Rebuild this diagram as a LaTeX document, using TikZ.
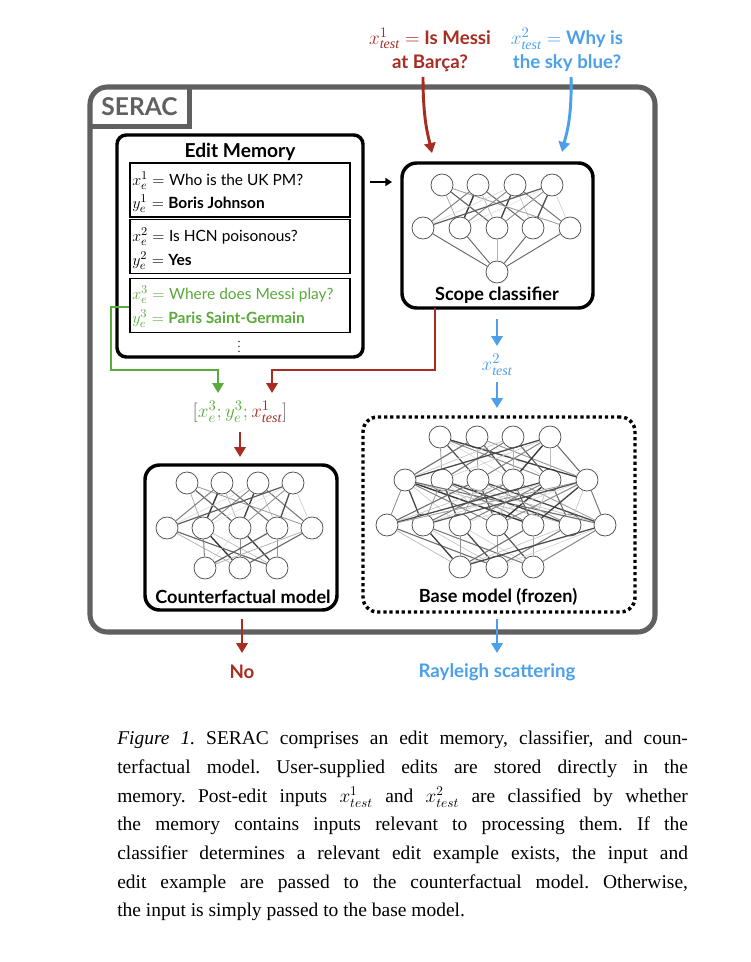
\documentclass[tikz,border=0pt]{standalone}
\usepackage{fontspec}
\setmainfont{Liberation Serif}
\newfontfamily\dsans{Lato}
\usetikzlibrary{arrows.meta,shadows,calc}
\definecolor{cred}{RGB}{168,44,34}
\definecolor{cblue}{RGB}{76,160,234}
\definecolor{cgreen}{RGB}{90,170,60}
\definecolor{cgray}{RGB}{96,96,96}
\newcommand\netlink[4]{%
  \foreach \i in {1,...,#2}{\foreach \j in {1,...,#4}{%
    \pgfmathtruncatemacro\g{mod(\i*47+\j*29+#2*13+#4*7,80)}%
    \ifnum\g>12 \draw[black!\g, line width=0.25pt+0.010pt*\g] (#1\i) -- (#3\j);\fi
  }}}
\newcommand\mx[1]{{\fontsize{12.6}{12.6}\selectfont\smash{$#1$}}}
\tikzset{
  neuron/.style={circle,draw=black!70,line width=0.55pt,fill=white,minimum size=16.5pt,inner sep=0pt},
  arr/.style={line width=2.2pt,-{Triangle[width=8.5pt,length=7.5pt]}},
  netbox/.style={draw=black,fill=white,line width=2.6pt,rounded corners=11pt,
    drop shadow={opacity=0.25,shadow xshift=0.8pt,shadow yshift=-0.8pt}},
  entrybox/.style={draw=black,line width=1pt,minimum width=165pt,minimum height=40.5pt,inner sep=0pt},
  lbl/.style={font=\dsans\bfseries\fontsize{13.6}{15}\selectfont},
  entrytxt/.style={anchor=west,inner sep=0pt,font=\dsans\fontsize{11.6}{13}\selectfont},
  bigtxt/.style={font=\dsans\bfseries\fontsize{14}{18.5}\selectfont,align=center},
}
\begin{document}
\begin{tikzpicture}[x=0.75pt,y=-0.75pt]
\useasboundingbox (0,0) rectangle (750,962);
\fill[white] (0,0) rectangle (750,962);

% outer SERAC box
\node[draw=cgray,fill=white,line width=3.8pt,rounded corners=13pt,minimum width=423.75pt,minimum height=408.75pt,
  drop shadow={opacity=0.3,shadow xshift=1pt,shadow yshift=-1pt}] (serac) at (372.5,359.5) {};
\node[minimum width=74.25pt,minimum height=29.25pt,inner sep=0pt,text=cgray,font=\dsans\bfseries\fontsize{18.4}{20}\selectfont] (seraclbl) at (139.5,106.5) {SERAC};
\draw[cgray,line width=3.8pt] (seraclbl.north east) -- (seraclbl.south east) -- (seraclbl.south west);

% Edit memory
\node[netbox,rounded corners=7pt,minimum width=184.5pt,minimum height=166.5pt] (mem) at (240,246) {};
\node[font=\dsans\bfseries\fontsize{14.4}{16}\selectfont,inner sep=0pt] (memtitle) at (240,152) {Edit Memory};
\node[entrybox] (e1) at (240,190) {};
\node[entrybox] (e2) at (240,246.5) {};
\node[entrybox] (e3) at (240,305.5) {};
\node[entrytxt] (e1x) at (132,180) {\mx{x_e^1={}}Who is the UK PM?};
\node[entrytxt] (e1y) at (132,203) {\mx{y_e^1={}}\textbf{Boris Johnson}};
\node[entrytxt] (e2x) at (132,237) {\mx{x_e^2={}}Is HCN poisonous?};
\node[entrytxt] (e2y) at (132,260) {\mx{y_e^2={}}\textbf{Yes}};
\node[entrytxt,text=cgreen] (e3x) at (132,295) {\mx{x_e^3={}}Where does Messi play?};
\node[entrytxt,text=cgreen] (e3y) at (132,318) {\mx{y_e^3={}}\textbf{Paris Saint-Germain}};
\node[inner sep=0pt,font=\fontsize{9}{9}\selectfont] (dots) at (239,343) {$\vdots$};

% Scope classifier
\node[netbox,minimum width=143.25pt,minimum height=108.75pt] (scope) at (497.5,235.5) {};
\foreach \i/\x in {1/442,2/478,3/515,4/552} \node[neuron] (sA\i) at (\x,185) {};
\foreach \i/\x in {1/423,2/460,3/497,4/533,5/570} \node[neuron] (sB\i) at (\x,228) {};
\node[neuron] (sC1) at (497,272) {};
\netlink{sA}{4}{sB}{5}
\foreach \j in {1,2,4,5} \draw[black!60,line width=0.7pt] (sC1) -- (sB\j);
\draw[black!30,line width=0.4pt] (sC1) -- (sB3);
\node[lbl] (scopelbl) at (497,295) {Scope classifier};

% Counterfactual model
\node[netbox,minimum width=144pt,minimum height=108.75pt] (cf) at (241,537.5) {};
\foreach \i/\x in {1/187,2/222,3/258,4/293} \node[neuron] (cA\i) at (\x,483) {};
\foreach \i/\x in {1/167,2/203,3/240,4/277,5/312} \node[neuron] (cB\i) at (\x,528) {};
\foreach \i/\x in {1/205,2/240,3/277} \node[neuron] (cC\i) at (\x,568) {};
\netlink{cA}{4}{cB}{5}
\netlink{cB}{5}{cC}{3}
\node[lbl] (cflbl) at (243,597) {Counterfactual model};

% Base model
\node[draw=black,fill=white,line width=2.6pt,dash pattern=on 2.4pt off 2.2pt,rounded corners=11pt,
  minimum width=204pt,minimum height=146.25pt] (base) at (499,514.5) {};
\foreach \i/\x in {1/440,2/477,3/513,4/550} \node[neuron] (bA\i) at (\x,437) {};
\foreach \i/\x in {1/405,2/442,3/478,4/513,5/550,6/587} \node[neuron] (bB\i) at (\x,480) {};
\foreach \i/\x in {1/387,2/423,3/460,4/497,5/533,6/570,7/605} \node[neuron] (bC\i) at (\x,525) {};
\foreach \i/\x in {1/460,2/497,3/533} \node[neuron] (bD\i) at (\x,567) {};
\netlink{bA}{4}{bB}{6}
\netlink{bB}{6}{bC}{7}
\netlink{bC}{7}{bD}{3}
\node[lbl] (baselbl) at (498,597) {Base model (frozen)};

% top inputs
\node[bigtxt,text=cred] (q1) at (430,50) {{\fontsize{15}{15}\selectfont$x^1_{\mathit{test}}=$}\ Is Messi\\at Barça?};
\node[bigtxt,text=cblue] (q2) at (567,50) {{\fontsize{15}{15}\selectfont$x^2_{\mathit{test}}=$}\ Why is\\the sky blue?};
\coordinate (rt0) at (423,77);
\coordinate (rt1) at (432,153);
\coordinate (bt0) at (571,77);
\coordinate (bt1) at (562,152);
\draw[arr,cred] (rt0) .. controls (423,120) and (428,135) .. (rt1);
\draw[arr,cblue] (bt0) .. controls (572,120) and (566,135) .. (bt1);

% memory -> scope
\coordinate (ma0) at (370,182);
\coordinate (ma1) at (392,182);
\draw[line width=1.4pt,-{Triangle[width=6pt,length=5pt]}] (ma0) -- (ma1);

% combined input
\node[inner sep=0pt,font=\fontsize{15}{18}\selectfont] (comb) at (240,412)
  {$\color{cgray}[\color{cgreen}x_e^3;y_e^3;\color{cred}x^1_{\mathit{test}}\color{cgray}]$};
\coordinate (rs0) at (435,308);
\coordinate (rbend) at (272,370);
\coordinate (rtip) at (272,393);
\draw[arr,cred] (rs0) |- (rbend) -- (rtip);
\coordinate (gs0) at (e3.west |- 0,307);
\coordinate (gleft) at (111,307);
\coordinate (gbend) at (218,370);
\coordinate (gtip) at (218,393);
\draw[arr,cgreen] (gs0) -- (gleft) |- (gbend) -- (gtip);
\coordinate (ca0) at (240,432);
\coordinate (ca1) at (240,457);
\draw[arr,cred] (ca0) -- (ca1);

% blue path to base
\coordinate (ba0) at (497,319);
\coordinate (ba1) at (497,346);
\draw[arr,cblue] (ba0) -- (ba1);
\node[inner sep=0pt,font=\fontsize{15}{18}\selectfont,text=cblue] (x2) at (497,365) {$x^2_{\mathit{test}}$};
\coordinate (ba2) at (497,382);
\coordinate (ba3) at (497,408);
\draw[arr,cblue] (ba2) -- (ba3);

% outputs
\coordinate (oa0) at (242,619);
\coordinate (oa1) at (242,653);
\draw[arr,cred] (oa0) -- (oa1);
\node[bigtxt,text=cred] (no) at (242,672) {No};
\coordinate (ob0) at (497,619);
\coordinate (ob1) at (497,653);
\draw[arr,cblue] (ob0) -- (ob1);
\node[bigtxt,text=cblue] (ray) at (497,672) {Rayleigh scattering};

% caption
\node[anchor=north west,inner sep=0pt,text width=428pt,align=justify,
  font=\fontsize{14.6}{21.5}\selectfont] (cap) at (117,731)
{\frenchspacing\textit{Figure 1.}\ SERAC comprises an edit memory, classifier, and coun-\linebreak
terfactual model. User-supplied edits are stored directly in the\linebreak
memory. Post-edit inputs $x^1_{test}$ and $x^2_{test}$ are classified by whether\linebreak
the memory contains inputs relevant to processing them. If the\linebreak
classifier determines a relevant edit example exists, the input and\linebreak
edit example are passed to the counterfactual model. Otherwise,\linebreak
the input is simply passed to the base model.};
\end{tikzpicture}
\end{document}
